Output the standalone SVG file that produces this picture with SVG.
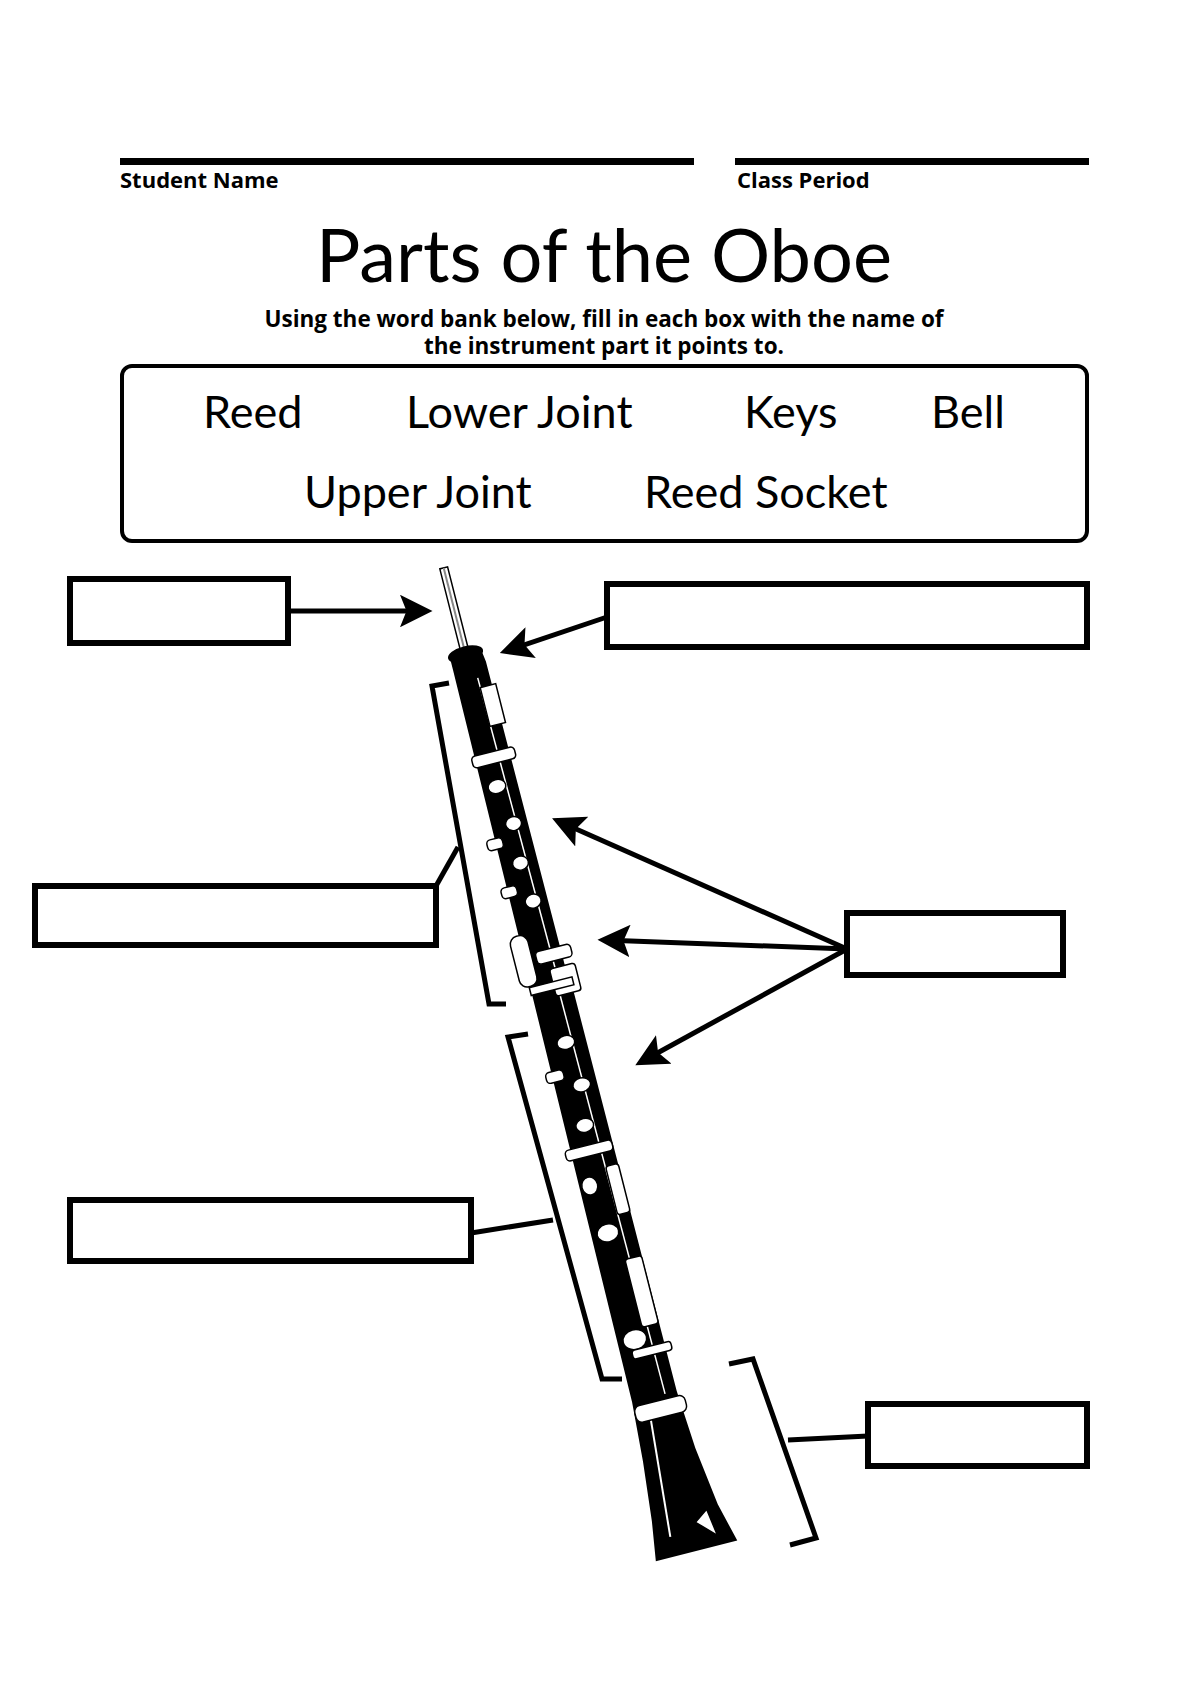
<svg xmlns="http://www.w3.org/2000/svg" width="1200" height="1698" viewBox="0 0 1200 1698">
<style>
.lbl{font-family:"Open Sans","Liberation Sans",sans-serif;font-weight:bold;font-size:22px;fill:#000}
.ins{font-family:"Open Sans","Liberation Sans",sans-serif;font-weight:bold;font-size:22.5px;fill:#000}
.word{font-family:"Lato","Liberation Sans",sans-serif;font-size:45px;fill:#000}
.box{fill:#fff;stroke:#000;stroke-width:6}
.con{stroke:#000;stroke-width:5;fill:none}
.brk{stroke:#000;stroke-width:5;fill:none}
.key{fill:#fff;stroke:#000;stroke-width:1.5}
</style>
<defs>
<marker id="ah" viewBox="0 0 10 10" refX="8" refY="5" markerWidth="6.5" markerHeight="6.5" orient="auto"><path d="M0,0 L10,5 L0,10 L2,5 z" fill="#000"/></marker>
</defs>
<rect width="1200" height="1698" fill="#fff"/>
<g id="header">
<rect x="120" y="158" width="574" height="7" fill="#000"/>
<rect x="735" y="158" width="354" height="7" fill="#000"/>
<text class="lbl" x="120" y="188">Student Name</text>
<text class="lbl" x="737" y="188">Class Period</text>
<text x="604" y="282" text-anchor="middle" font-family="Lato,'Liberation Sans',sans-serif" font-size="74" fill="#000">Parts of the Oboe</text>
<text class="ins" x="604" y="327" text-anchor="middle">Using the word bank below, fill in each box with the name of</text>
<text class="ins" x="604" y="354" text-anchor="middle">the instrument part it points to.</text>
</g>
<g id="wordbank">
<rect x="122" y="366" width="965" height="175" rx="10" fill="none" stroke="#000" stroke-width="4"/>
<text class="word" x="203" y="428">Reed</text>
<text class="word" x="406" y="428">Lower Joint</text>
<text class="word" x="744" y="428">Keys</text>
<text class="word" x="931" y="428">Bell</text>
<text class="word" x="304" y="508">Upper Joint</text>
<text class="word" x="644" y="508">Reed Socket</text>
</g>
<g id="oboe" transform="translate(467,660) rotate(-14.2)">
<rect x="-4" y="-95" width="8" height="85" fill="#fff" stroke="#000" stroke-width="1.5"/>
<line x1="0" y1="-95" x2="0" y2="-10" stroke="#888" stroke-width="2"/>
<path d="M-16,-8 L16,-8 L18,6 L20,330 L22,340 L24,760 L28,820 L36,880 L46,920 L-38,920 L-32,880 L-26,820 L-22,760 L-19,340 L-18,330 L-16,6 Z" fill="#000"/>
<ellipse cx="0" cy="-6" rx="18" ry="8" fill="#000"/>
<line x1="6" y1="20" x2="10" y2="330" stroke="#fff" stroke-width="1.5"/>
<line x1="8" y1="345" x2="12" y2="760" stroke="#fff" stroke-width="1.5"/>
<line x1="-8" y1="780" x2="-18" y2="900" stroke="#fff" stroke-width="2"/>
<g>
<rect class="key" x="6" y="30" width="16" height="40"/>
<rect class="key" x="-20" y="95" width="44" height="12" rx="4"/>
<ellipse class="key" cx="-2" cy="130" rx="9" ry="7"/>
<ellipse class="key" cx="5" cy="170" rx="8" ry="7"/>
<rect class="key" x="-26" y="180" width="16" height="11" rx="4"/>
<ellipse class="key" cx="2" cy="210" rx="8" ry="7"/>
<rect class="key" x="-24" y="230" width="16" height="11" rx="4"/>
<ellipse class="key" cx="5" cy="250" rx="8" ry="7"/>
<rect class="key" x="-28" y="280" width="18" height="52" rx="8"/>
<rect class="key" x="-6" y="300" width="36" height="13" rx="4"/>
<rect class="key" x="4" y="320" width="26" height="28" rx="3"/>
<rect class="key" x="-20" y="333" width="44" height="8"/>
<ellipse class="key" cx="2" cy="395" rx="9" ry="7"/>
<rect class="key" x="-26" y="420" width="18" height="11" rx="4"/>
<ellipse class="key" cx="7" cy="440" rx="9" ry="7"/>
<ellipse class="key" cx="0" cy="480" rx="9" ry="7"/>
<rect class="key" x="-26" y="500" width="48" height="11" rx="4"/>
<ellipse class="key" cx="-10" cy="540" rx="8" ry="9"/>
<rect class="key" x="10" y="525" width="13" height="50" rx="3"/>
<ellipse class="key" cx="-4" cy="590" rx="11" ry="9"/>
<rect class="key" x="6" y="620" width="17" height="70" rx="3"/>
<ellipse class="key" cx="-4" cy="700" rx="12" ry="10"/>
<rect class="key" x="-10" y="710" width="40" height="9" rx="3"/>
<rect class="key" x="-22" y="765" width="52" height="17" rx="6"/>
<path class="key" d="M10,892 L24,882 L28,910 Z"/>
</g>
</g>
<g id="connectors">
<line class="con" x1="288" y1="611" x2="426" y2="611" marker-end="url(#ah)"/>
<line class="con" x1="607" y1="617" x2="506" y2="651" marker-end="url(#ah)"/>
<line class="con" x1="847" y1="949" x2="558" y2="821" marker-end="url(#ah)"/>
<line class="con" x1="847" y1="949" x2="604" y2="940" marker-end="url(#ah)"/>
<line class="con" x1="847" y1="949" x2="641" y2="1062" marker-end="url(#ah)"/>
<polyline class="brk" points="449,683 432,686 489,1004 506,1004"/>
<line class="con" x1="458" y1="847" x2="436" y2="886"/>
<polyline class="brk" points="528,1034 508,1037 602,1379 622,1379"/>
<line class="con" x1="553" y1="1220" x2="471" y2="1233"/>
<polyline class="brk" points="729,1364 753,1359 816,1538 790,1545"/>
<line class="con" x1="788" y1="1440" x2="868" y2="1436"/>
</g>
<g id="box-reed"><rect class="box" x="70" y="579" width="218" height="64"/></g>
<g id="box-socket"><rect class="box" x="607" y="584" width="480" height="63"/></g>
<g id="box-upper"><rect class="box" x="35" y="886" width="401" height="59"/></g>
<g id="box-keys"><rect class="box" x="847" y="913" width="216" height="62"/></g>
<g id="box-lower"><rect class="box" x="70" y="1200" width="401" height="61"/></g>
<g id="box-bell"><rect class="box" x="868" y="1404" width="219" height="62"/></g>
</svg>
